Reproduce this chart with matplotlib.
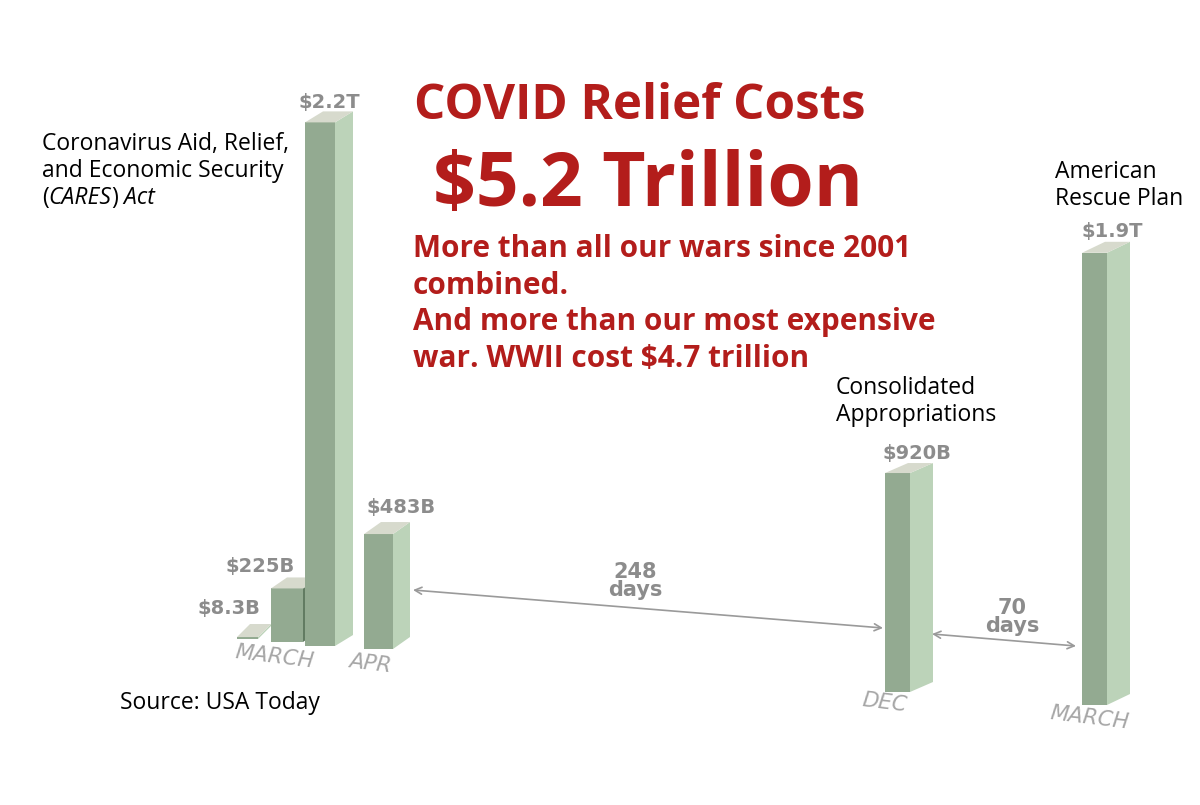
"""COVID relief bills drawn as pseudo-3D bars, after the USA Today graphic."""
import matplotlib
matplotlib.use("Agg")
import matplotlib.pyplot as plt

# --- data -------------------------------------------------------------
value_labels = ["$8.3B", "$225B", "$2.2T", "$483B", "$920B", "$1.9T"]
values_tn = [0.0083, 0.225, 2.2, 0.483, 0.92, 1.9]   # trillions of dollars
month_labels = ["MARCH", "APR", "DEC", "MARCH"]
month_bar = [1, 3, 4, 5]                              # bar each month sits under
gap_labels = ["248\ndays", "70\ndays"]
gap_bars = [(3, 4), (4, 5)]

# --- layout (pixels of the 1200x805 canvas) ---------------------------
W, H, DPI = 1200, 805, 100
PX_PER_T = 238          # vertical pixels per trillion
ZERO_Y = 646            # pixel row of the front baseline
bar_left = [237, 271, 305, 364, 885, 1082]
front_w = [21, 32, 30, 29, 25, 25]
side_dx = [13, 16, 18, 17, 23, 23]
cap_dy = [13, 11, 11, 12, 10, 11]
base_px = [639, 642, 646, 649, 692, 705]   # perspective: baseline drops to the right
label_dx = [-25, -35, 0, 14, 8, 6]
label_gap = [16, 11, 9, 15, 10, 10]
month_off = [(-12, 15), (-8, 15), (-13, 11), (-5, 13)]
arrow_h = [((3, 59), (-2, 64)), ((-1, 58), (-6, 59))]
gap_off = [(-13, -28), (8, -23)]

FRONT = "#93aa91"
SIDE = ["#bcd3b9", "#627b62", "#bcd3b9", "#bcd3b9", "#bcd3b9", "#bcd3b9"]
CAP = "#d7dacd"
RED = "#b31d1b"
GREY = "#8c8c8c"
MONTH_GREY = "#a6a6a6"
FONT = ["Open Sans", "DejaVu Sans"]


def tn(y_px):
    return (ZERO_Y - y_px) / PX_PER_T


def fxy(x, y):
    return x / W, 1 - y / H


fig = plt.figure(figsize=(W / DPI, H / DPI), dpi=DPI)
fig.patch.set_facecolor("white")
ax = fig.add_axes([0, 0, 1, 1])
ax.set_xlim(0, W)
ax.set_ylim(tn(H), tn(0))
ax.axis("off")

base_t = [tn(b) for b in base_px]
bars = ax.bar(bar_left, values_tn, width=front_w, bottom=base_t, align="edge",
              color=FRONT, linewidth=0)

for i, rect in enumerate(bars):
    z = 2 + i
    rect.set_zorder(z)
    x0 = bar_left[i]
    x1 = x0 + front_w[i]
    dx = side_dx[i]
    dy = cap_dy[i] / PX_PER_T
    y0 = base_t[i]
    y1 = y0 + values_tn[i]
    # side face and top cap
    ax.fill([x1, x1 + dx, x1 + dx, x1], [y0, y0 + dy, y1 + dy, y1],
            color=SIDE[i], lw=0, zorder=z)
    ax.fill([x0, x1, x1 + dx, x0 + dx], [y1, y1, y1 + dy, y1 + dy],
            color=CAP, lw=0, zorder=z)
    ax.text(x0 + (front_w[i] + dx) / 2 + label_dx[i],
            y1 + (cap_dy[i] + label_gap[i]) / PX_PER_T,
            value_labels[i], ha="center", va="center", color=GREY,
            fontsize=14, fontweight="bold", family="DejaVu Sans", zorder=10)

for lab, bi, (ox, oy) in zip(month_labels, month_bar, month_off):
    ax.text(bar_left[bi] + front_w[bi] / 2 + ox, base_t[bi] - oy / PX_PER_T, lab,
            ha="center", va="center", rotation=-7, rotation_mode="anchor",
            color=MONTH_GREY, fontsize=15.5, fontstyle="italic",
            family="DejaVu Sans", zorder=10)

# day gaps between bills
for lab, (a, b), (ha_, hb_), (ox, oy) in zip(gap_labels, gap_bars, arrow_h, gap_off):
    xa = bar_left[a] + front_w[a] + side_dx[a] + ha_[0]
    ya = base_t[a] + ha_[1] / PX_PER_T
    xb = bar_left[b] + hb_[0]
    yb = base_t[b] + hb_[1] / PX_PER_T
    ax.annotate("", xy=(xb, yb), xytext=(xa, ya),
                arrowprops=dict(arrowstyle="<->,head_length=0.5,head_width=0.25",
                                color="#9a9a9a", lw=1.2, shrinkA=0, shrinkB=0),
                zorder=9)
    ax.text((xa + xb) / 2 + ox, (ya + yb) / 2 - oy / PX_PER_T, lab,
            ha="center", va="center", color=GREY, fontsize=15,
            fontweight="bold", family="DejaVu Sans", linespacing=0.9, zorder=10)

# headline
fig.text(*fxy(640, 119), "COVID Relief Costs", ha="center", va="baseline",
         color=RED, fontsize=35.5, fontweight="bold", family=FONT)
fig.text(*fxy(648, 206), "$5.2 Trillion", ha="center", va="baseline",
         color=RED, fontsize=54, fontweight="bold", family=FONT)
sub_lines = ["More than all our wars since 2001", "combined.",
             "And more than our most expensive", "war. WWII cost $4.7 trillion"]
for k, line in enumerate(sub_lines):
    fig.text(*fxy(413, 257 + 36.7 * k), line, ha="left", va="baseline",
             color=RED, fontsize=21.4, fontweight="bold", family=FONT)

# bill names
for k, line in enumerate(["Coronavirus Aid, Relief,", "and Economic Security"]):
    fig.text(*fxy(42, 150 + 27 * k), line, ha="left", va="baseline",
             color="black", fontsize=16.5, family=FONT)

renderer = fig.canvas.get_renderer()
x_run = 42
for piece, style in [("(", "normal"), ("CARES", "italic"), (")", "normal"), (" Act", "italic")]:
    t = fig.text(*fxy(x_run, 204), piece, ha="left", va="baseline",
                 color="black", fontsize=16.5, fontstyle=style, family=FONT)
    x_run += t.get_window_extent(renderer).width

for k, line in enumerate(["American", "Rescue Plan"]):
    fig.text(*fxy(1055, 178 + 27 * k), line, ha="left", va="baseline",
             color="black", fontsize=16.5, family=FONT)
for k, line in enumerate(["Consolidated", "Appropriations"]):
    fig.text(*fxy(836, 394 + 27 * k), line, ha="left", va="baseline",
             color="black", fontsize=16.5, family=FONT)
fig.text(*fxy(120, 709), "Source: USA Today", ha="left", va="baseline",
         color="black", fontsize=16.5, family=FONT)

fig.savefig("out.png", dpi=DPI, facecolor="white")
plt.close(fig)
